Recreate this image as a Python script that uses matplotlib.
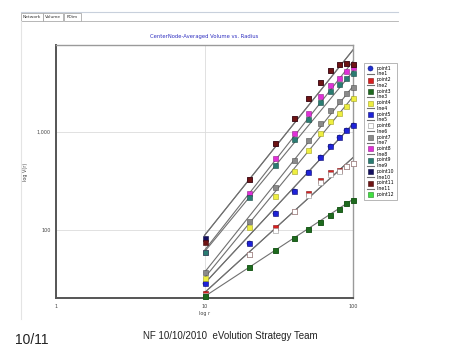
import numpy as np
import matplotlib
matplotlib.use('Agg')
import matplotlib.pyplot as plt
from matplotlib.patches import Rectangle
from matplotlib.lines import Line2D

# radius values (x)
radius = [10, 20, 30, 40, 50, 60, 70, 80, 90, 100]

# averaged volume per series
point1 = [28.7, 73.3, 148, 249, 389, 557, 721, 889, 1040, 1170]
point2 = [22.9, 56.6, 106, 156, 240, 322, 392, 412, 448, 480]
point3 = [21.3, 41.8, 62, 82.4, 102, 121, 143, 164, 187, 202]
point4 = [32.7, 106.5, 223, 401, 656, 970, 1276, 1549, 1837, 2188]
point5 = [28.7, 73.3, 148, 249, 389, 557, 721, 889, 1040, 1170]
point6 = [22.0, 56.6, 100, 156, 228, 305, 372, 398, 448, 480]
point7 = [37.7, 124.5, 275, 515, 824, 1235, 1652, 2050, 2460, 2830]
point8 = [60.0, 236, 536, 977, 1561, 2307, 2985, 3540, 4178, 4520]
point9 = [60.1, 218, 461, 843, 1356, 2004, 2576, 3034, 3493, 3930]
point10 = [83.5, 330, 762, 1388, 2203, 3228, 4217, 4850, 4966, 4900]
point11 = [76.0, 330, 762, 1388, 2203, 3228, 4217, 4850, 4966, 4900]
point12 = [21.3, 41.8, 62, 82.4, 102, 121, 143, 164, 187, 202]

# fitted lines: value at r=10 and at r=100
line_r = [10, 100]
line1 = [28.5, 1200]
line2 = [23, 545]
line3 = [21, 205]
line4 = [32.5, 2270]
line5 = [28.5, 1200]
line6 = [23, 545]
line7 = [37, 2900]
line8 = [62, 5200]
line9 = [60, 4100]
line10 = [88, 6800]
line11 = [88, 6800]

points = [point1, point2, point3, point4, point5, point6,
          point7, point8, point9, point10, point11, point12]
lines = [line1, line2, line3, line4, line5, line6,
         line7, line8, line9, line10, line11]

face = ['#2030d0', '#d82020', '#1e6a1e', '#eeee40', '#1e22d8', '#ffffff',
        '#8a8a8a', '#e030d8', '#2a7c72', '#141060', '#6e1414', '#40e040']
edge = ['#101880', '#801010', '#0e3a0e', '#a0a020', '#101070', '#909090',
        '#505050', '#902088', '#164a44', '#08083a', '#400808', '#208020']
marker = ['o'] + ['s'] * 11
# drawing order so the picture overlaps look right
zorder = [3.0, 3.1, 3.3, 3.4, 3.2, 3.2, 3.5, 3.6, 3.7, 3.8, 3.9, 3.25]


def main():
    fig = plt.figure(figsize=(4.74, 3.55), dpi=100)
    fig.patch.set_facecolor('white')

    # tab strip
    W, H = 474.0, 355.0
    fig.add_artist(Line2D([20.7 / W, 398 / W], [1 - 11.7 / H, 1 - 11.7 / H],
                          color='#c8d0dc', lw=0.8))
    fig.add_artist(Line2D([81 / W, 398 / W], [1 - 20.7 / H, 1 - 20.7 / H],
                          color='#b0b0b0', lw=0.6))
    fig.add_artist(Line2D([20.7 / W, 20.7 / W], [1 - 20.7 / H, 1 - 319 / H],
                          color='#e4e4e4', lw=0.8))
    tabs = [('Network', 20.7, 42.7), ('Volume', 43.3, 63.3), ('FDim', 64.3, 81)]
    for name, x0, x1 in tabs:
        fig.add_artist(Rectangle((x0 / W, 1 - 20.7 / H), (x1 - x0) / W, 7.5 / H,
                                 facecolor='white', edgecolor='#9a9a9a', lw=0.5))
        fig.text((x0 + x1) / 2 / W, 1 - 17.2 / H, name, fontsize=3.2,
                 ha='center', va='center', color='#333333')

    ax = fig.add_axes([56 / W, 1 - 298 / H, (353 - 56) / W, (298 - 45) / H])
    ax.set_xscale('log')
    ax.set_yscale('log')
    ax.set_xlim(1, 100)
    ax.set_ylim(20.3, 7620)

    handles = []
    for i in range(12):
        h, = ax.plot(radius, points[i], ls='none', marker=marker[i], ms=3.6,
                     mfc=face[i], mec=edge[i], mew=0.4, zorder=zorder[i],
                     clip_on=False, label='point{:d}'.format(i + 1))
        handles.append(h)
        if i < 11:
            l, = ax.plot(line_r, lines[i], color='#707070', lw=0.8, zorder=2,
                         label='line{:d}'.format(i + 1))
            handles.append(l)

    ax.set_xticks([1, 10, 100])
    ax.set_xticklabels(['1', '10', '100'])
    ax.set_yticks([100, 1000])
    ax.set_yticklabels(['100', '1,000'])
    ax.minorticks_off()
    ax.tick_params(length=0, labelsize=3.5, labelcolor='#444444', pad=4)
    ax.grid(True, color='#dcdcdc', lw=0.6)
    ax.set_axisbelow(True)

    for s in ['left', 'bottom']:
        ax.spines[s].set_color('#555555')
        ax.spines[s].set_linewidth(1.4)
    for s in ['top', 'right']:
        ax.spines[s].set_color('#9a9a9a')
        ax.spines[s].set_linewidth(1.0)

    ax.set_xlabel('log r', fontsize=3.5, color='#444444', labelpad=2)
    ax.set_ylabel('log V(r)', fontsize=3.5, color='#444444', labelpad=6)
    ax.set_title('CenterNode-Averaged Volume vs. Radius', fontsize=3.8,
                 color='#3030c0', pad=5)

    leg = fig.legend(handles=handles, loc='upper left',
                     bbox_to_anchor=(364 / W, 1 - 63 / H), fontsize=3.3,
                     frameon=True, fancybox=False, handlelength=1.6,
                     handletextpad=0.6, labelspacing=0.16, borderpad=0.6,
                     borderaxespad=0.0, markerscale=1.0)
    leg.get_frame().set_edgecolor('#808080')
    leg.get_frame().set_linewidth(0.5)

    fig.text(15 / W, 1 - 340 / H, '10/11', fontsize=10, ha='left',
             va='center', color='#222222', family='Liberation Sans')
    fig.text(230 / W, 1 - 336 / H, 'NF 10/10/2010  eVolution Strategy Team',
             fontsize=7, ha='center', va='center', color='#222222',
             family='Liberation Sans')

    fig.savefig('out.png', dpi=100)
    plt.close(fig)


if __name__ == '__main__':
    main()
